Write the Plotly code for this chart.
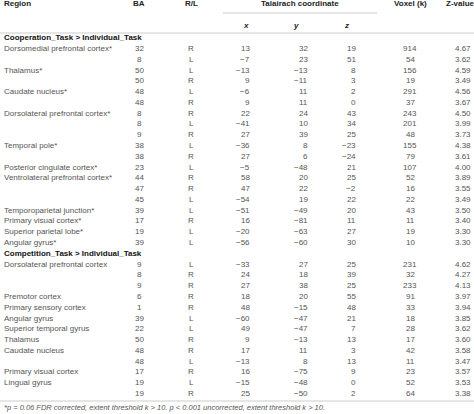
import plotly.graph_objects as go

# Table data
region = ["Dorsomedial prefrontal cortex*", "", "Thalamus*", "", "Caudate nucleus*", "",
          "Dorsolateral prefrontal cortex*", "", "", "Temporal pole*", "",
          "Posterior cingulate cortex*", "Ventrolateral prefrontal cortex*", "", "",
          "Temporoparietal junction*", "Primary visual cortex*", "Superior parietal lobe*",
          "Angular gyrus*",
          "Dorsolateral prefrontal cortex", "", "", "Premotor cortex", "Primary sensory cortex",
          "Angular gyrus", "Superior temporal gyrus", "Thalamus", "Caudate nucleus", "",
          "Primary visual cortex", "Lingual gyrus", ""]
ba = [32, 8, 50, 50, 48, 48, 8, 8, 9, 38, 38, 23, 44, 47, 45, 39, 17, 19, 39,
      9, 8, 9, 6, 1, 39, 22, 50, 48, 48, 17, 19, 19]
rl = ["R", "L", "L", "R", "L", "R", "R", "L", "R", "L", "R", "L", "R", "R", "L", "L", "R", "L", "L",
      "L", "R", "R", "R", "R", "L", "L", "R", "R", "L", "R", "L", "R"]
tx = [13, -7, -13, 9, -6, 9, 22, -41, 27, -36, 27, -5, 58, 47, -54, -51, 16, -20, -56,
      -33, 24, 27, 18, 48, -60, 49, 9, 17, -13, 16, -15, 25]
ty = [32, 23, -13, -11, 11, 11, 24, 10, 39, 8, 6, -48, 20, 22, 19, -49, -81, -63, -60,
      27, 18, 38, 20, -15, -47, -47, -13, 11, 8, -75, -48, -50]
tz = [19, 51, 8, 3, 2, 0, 43, 34, 25, -23, -24, 21, 25, -2, 22, 20, 11, 27, 30,
      25, 39, 25, 55, 48, 21, 7, 13, 3, 13, 9, 0, 2]
voxel = [914, 54, 156, 19, 291, 37, 243, 201, 48, 155, 79, 107, 52, 16, 22, 43, 11, 19, 10,
         231, 32, 233, 91, 33, 18, 28, 17, 42, 11, 23, 52, 64]
zval = [4.67, 3.62, 4.59, 3.49, 4.56, 3.67, 4.50, 3.99, 3.73, 4.38, 3.61, 4.00, 3.89, 3.55, 3.49,
        3.50, 3.40, 3.30, 3.30,
        4.62, 4.27, 4.13, 3.97, 3.94, 3.85, 3.62, 3.60, 3.58, 3.47, 3.57, 3.53, 3.38]
sections = ["Cooperation_Task > Individual_Task", "Competition_Task > Individual_Task"]
n_coop = 19
footnote = "*p = 0.06 FDR corrected, extent threshold k > 10. p < 0.001 uncorrected, extent threshold k > 10."

FONT = "Liberation Sans, Arial"
GREY = "#555555"
fig = go.Figure()
ann = []

def txt(x, y, s, anchor="center", color=GREY, size=8, bold=False, italic=False):
    if bold:
        s = "<b>" + s + "</b>"
    if italic:
        s = "<i>" + s + "</i>"
    ann.append(dict(x=x, y=y, text=s, xref="x", yref="y", showarrow=False,
                    xanchor=anchor, yanchor="middle",
                    font=dict(family=FONT, size=size, color=color)))

def fmt(v):
    return str(v).replace("-", "\u2212")

# headers
txt(2, 3, "Region", "left", "#222", bold=True)
txt(139, 3, "BA", color="#222", bold=True)
txt(191, 3, "R/L", color="#222", bold=True)
txt(300, 3, "Talairach coordinate", color="#222", bold=True)
txt(410, 3, "Voxel (k)", color="#222", bold=True)
txt(460, 3, "Z-value", color="#222", bold=True)
txt(246, 25, "x", color="#222", bold=True, italic=True)
txt(296, 25, "y", color="#222", bold=True, italic=True)
txt(346, 25, "z", color="#222", bold=True, italic=True)

step = 10.78
y0 = 48.5
txt(2, y0 - step, sections[0], "left", "#111", bold=True)
for i in range(len(ba)):
    r = i if i < n_coop else i + 1
    y = y0 + r * step
    txt(2, y, region[i], "left")
    txt(139, y, str(ba[i]))
    txt(191, y, rl[i])
    txt(252, y, fmt(tx[i]), "right")
    txt(310, y, fmt(ty[i]), "right")
    txt(358, y, fmt(tz[i]), "right")
    txt(410, y, str(voxel[i]))
    txt(463, y, "%.2f" % zval[i])
txt(2, y0 + n_coop * step, sections[1], "left", "#111", bold=True)
txt(2, 407, footnote, "left", italic=True, size=7.5)

shapes = [
    dict(type="line", x0=223, x1=377, y0=13, y1=13, xref="x", yref="y", line=dict(color="#ccc", width=1)),
    dict(type="line", x0=0, x1=474, y0=33, y1=33, xref="x", yref="y", line=dict(color="#ccc", width=1)),
    dict(type="line", x0=0, x1=474, y0=401, y1=401, xref="x", yref="y", line=dict(color="#ccc", width=1)),
]

fig.update_layout(
    width=474, height=414, margin=dict(l=0, r=0, t=0, b=0),
    paper_bgcolor="white", plot_bgcolor="white",
    xaxis=dict(range=[0, 474], visible=False, fixedrange=True),
    yaxis=dict(range=[414, 0], visible=False, fixedrange=True),
    annotations=ann, shapes=shapes, showlegend=False,
)
fig.write_html("out.html", config={"displayModeBar": False},
               post_script="document.body.style.margin='0';document.body.style.overflow='hidden';")
